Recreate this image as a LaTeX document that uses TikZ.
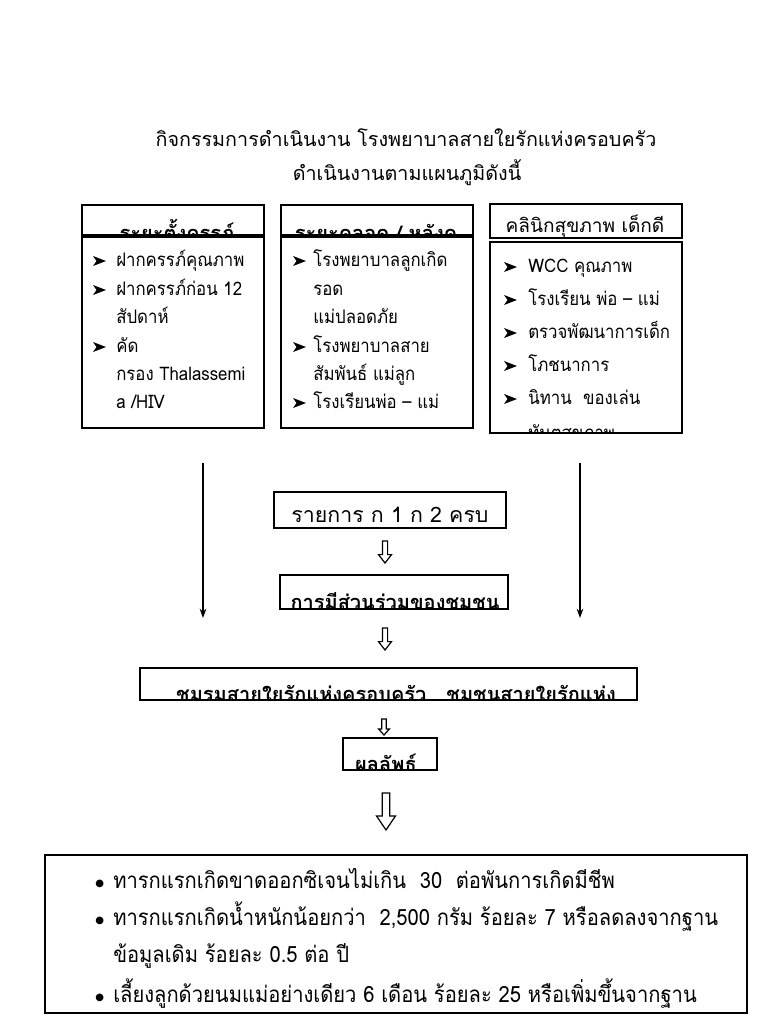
\documentclass[tikz,border=0pt]{standalone}
\usepackage{fontspec}
\setmainfont{Loma}[Script=Thai]
\newfontfamily\bodyf[Script=Thai,FakeStretch=0.9]{Loma}
\newfontfamily\dv{DejaVu Sans}
\usetikzlibrary{arrows.meta}
\begin{document}
\begin{tikzpicture}[x=0.75pt,y=-0.75pt,
  frame/.style={draw, line width=1.1pt},
  thick sep/.style={line width=2.4pt},
  txt/.style={anchor=base west, inner sep=0pt, font=\bodyf\fontsize{14}{17}\selectfont},
  hdr/.style={anchor=base, inner sep=0pt, font=\bfseries\fontsize{15}{18}\selectfont},
  btxt/.style={anchor=base west, inner sep=0pt, font=\bodyf\fontsize{16.8}{20}\selectfont},
  bdot/.style={anchor=base west, inner sep=0pt, font=\dv\fontsize{7.5}{10}\selectfont},
  longarrow/.style={line width=0.8pt, -{Stealth[length=7pt,width=5pt]}},
  pics/harrow/.style={code={\draw[line width=0.9pt, line join=miter]
     (-0.2,0) -- (0.2,0) -- (0.2,0.62) -- (0.5,0.62) -- (0,1) -- (-0.5,0.62) -- (-0.2,0.62) -- cycle;}},
  pics/abul/.style={code={\fill[line join=miter]
     (0,-5) -- (13,0) -- (0,5) -- (3.5,0) -- cycle;}}
]
\useasboundingbox (0,0) rectangle (768,1024);
\fill[white] (0,0) rectangle (768,1024);

% title
\node[anchor=base, inner sep=0pt, font=\fontsize{14.8}{18}\selectfont] (t1) at (406,146) {กิจกรรมการดำเนินงาน โรงพยาบาลสายใยรักแห่งครอบครัว};
\node[anchor=base, inner sep=0pt, font=\fontsize{14.8}{18}\selectfont] (t2) at (407,180) {ดำเนินงานตามแผนภูมิดังนี้};

% ---- box 1
\begin{scope}
\clip (82,205) rectangle (264,235);
\node[hdr] (h1) at (177,240) {ระยะตั้งครรภ์};
\end{scope}
\draw[frame] (82,205) rectangle (264,428);
\draw[thick sep] (82,236) -- (264,236);
\pic at (93,261) {abul};
\node[txt] (i11) at (116,266) {ฝากครรภ์คุณภาพ};
\pic at (93,290) {abul};
\node[txt] (i12) at (116,295) {ฝากครรภ์ก่อน 12};
\node[txt] (i13) at (116,323) {สัปดาห์};
\pic at (93,347) {abul};
\node[txt] (i14) at (116,352) {คัด};
\node[txt] (i15) at (116,380) {กรอง Thalassemi};
\node[txt] (i16) at (116,408) {a /HIV};

% ---- box 2
\begin{scope}
\clip (281,205) rectangle (473,235);
\node[hdr] (h2) at (376,240) {ระยะคลอด / หลังค};
\end{scope}
\draw[frame] (281,205) rectangle (473,428);
\draw[thick sep] (281,236) -- (473,236);
\pic at (293,261) {abul};
\node[txt] (i21) at (313,266) {โรงพยาบาลลูกเกิด};
\node[txt] (i22) at (313,295) {รอด};
\node[txt] (i23) at (313,323) {แม่ปลอดภัย};
\pic at (293,347) {abul};
\node[txt] (i24) at (313,352) {โรงพยาบาลสาย};
\node[txt] (i25) at (313,380) {สัมพันธ์ แม่ลูก};
\pic at (293,403) {abul};
\node[txt] (i26) at (313,408) {โรงเรียนพ่อ – แม่};

% ---- box 3
\draw[frame] (490,204) rectangle (682,238);
\node[anchor=base, inner sep=0pt, font=\fontsize{14.3}{17}\selectfont] (h3) at (585,232) {คลินิกสุขภาพ เด็กดี};
\begin{scope}
\clip (490,242) rectangle (682,433);
\pic at (504,267) {abul};
\node[txt] (i31) at (528,272) {WCC คุณภาพ};
\pic at (504,300) {abul};
\node[txt] (i32) at (528,305) {โรงเรียน พ่อ – แม่};
\pic at (504,333) {abul};
\node[txt] (i33) at (528,338) {ตรวจพัฒนาการเด็ก};
\pic at (504,366) {abul};
\node[txt] (i34) at (528,371) {โภชนาการ};
\pic at (504,399) {abul};
\node[txt] (i35) at (528,404) {นิทาน\ \ ของเล่น};
\pic at (504,437) {abul};
\node[txt] (i36) at (528,439) {ทันตสุขภาพ};
\end{scope}
\draw[frame] (490,242) rectangle (682,433);

% ---- long arrows
\coordinate (la1) at (203,463); \coordinate (la2) at (203,618);
\coordinate (ra1) at (580,463); \coordinate (ra2) at (580,618);
\draw[longarrow] (la1) -- (la2);
\draw[longarrow] (ra1) -- (ra2);

% ---- centre chain
\draw[frame] (274,492) rectangle (506,528);
\node[anchor=base, inner sep=0pt, font=\fontsize{16}{19}\selectfont] (c1) at (390,522) {รายการ ก 1 ก 2 ครบ};
\pic[xscale=13, yscale=22] at (385,541) {harrow};

\begin{scope}
\clip (280,575) rectangle (508,609);
\node[anchor=base, inner sep=0pt, font=\bfseries\fontsize{15}{18}\selectfont] (c2) at (395,609) {การมีส่วนร่วมของชุมชน};
\end{scope}
\draw[frame] (280,575) rectangle (508,609);
\pic[xscale=13, yscale=22] at (385,628) {harrow};

\begin{scope}
\clip (140,668) rectangle (637,700);
\node[anchor=base, inner sep=0pt, font=\bfseries\fontsize{15}{18}\selectfont] (c3) at (396,701) {ชมรมสายใยรักแห่งครอบครัว\quad ชุมชนสายใยรักแห่ง};
\end{scope}
\draw[frame] (140,668) rectangle (637,700);
\pic[xscale=11, yscale=16] at (384,719) {harrow};

\begin{scope}
\clip (343,738) rectangle (437,770);
\node[anchor=base, inner sep=0pt, font=\bfseries\fontsize{15}{18}\selectfont] (c4) at (386,771) {ผลลัพธ์};
\end{scope}
\draw[frame] (343,738) rectangle (437,770);
\pic[xscale=19, yscale=37] at (386,793) {harrow};

% ---- result box
\draw[frame] (45,855) rectangle (747,1013);
\node[bdot] (d1) at (95,886) {●};
\node[btxt] (r1) at (113,888) {ทารกแรกเกิดขาดออกซิเจนไม่เกิน\ \ 30\ \ ต่อพันการเกิดมีชีพ};
\node[bdot] (d2) at (95,923) {●};
\node[btxt] (r2) at (113,925) {ทารกแรกเกิดน้ำหนักน้อยกว่า\ \ 2,500 กรัม ร้อยละ 7 หรือลดลงจากฐาน};
\node[btxt] (r3) at (113,962) {ข้อมูลเดิม ร้อยละ 0.5 ต่อ ปี};
\node[bdot] (d4) at (95,1000) {●};
\node[btxt] (r4) at (113,1002) {เลี้ยงลูกด้วยนมแม่อย่างเดียว 6 เดือน ร้อยละ 25 หรือเพิ่มขึ้นจากฐาน};
\end{tikzpicture}
\end{document}
